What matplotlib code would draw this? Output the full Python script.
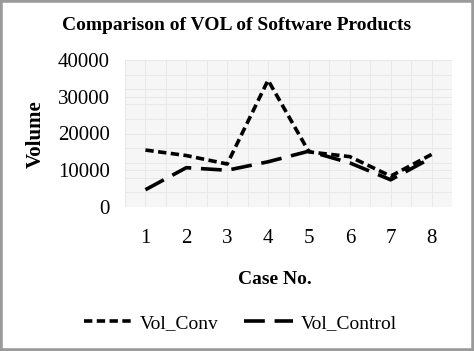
import numpy as np
import matplotlib.pyplot as plt
from matplotlib.patches import Rectangle

plt.rcParams['font.family'] = ['Liberation Serif', 'DejaVu Serif']
plt.rcParams['lines.scale_dashes'] = False

cases = ['1', '2', '3', '4', '5', '6', '7', '8']
vol_conv = [15500, 14000, 11700, 34500, 15000, 13700, 8400, 14300]
vol_control = [4700, 10700, 10000, 12300, 15200, 12000, 7400, 13400]

fig = plt.figure(figsize=(4.74, 3.51), dpi=100)
ax = fig.add_axes([125 / 474, 1 - 207 / 351, 327 / 474, 147 / 351])
ax.set_facecolor('#f6f6f6')

x = np.arange(1, len(cases) + 1)
ax.plot(x, vol_conv, color='black', lw=2.6, dashes=(6, 3.2), label='Vol_Conv')
ax.plot(x, vol_control, color='black', lw=2.6, dashes=(15, 7), label='Vol_Control')

ax.set_xlim(0.5, 8.5)
ax.set_ylim(0, 40000)
ax.set_yticks([0, 10000, 20000, 30000, 40000])
ax.set_xticks(x)
ax.set_xticklabels(cases)
ax.tick_params(length=0, labelsize=15)
ax.tick_params(axis='x', pad=16)
ax.tick_params(axis='y', pad=11)
for s in ax.spines.values():
    s.set_visible(False)

# faint grid texture of the plot area
ax.set_xticks(np.arange(0.5, 8.6, 0.5), minor=True)
ax.set_yticks(np.arange(0, 40001, 4000), minor=True)
ax.grid(which='both', color='#e6e6e6', lw=0.6)
ax.tick_params(which='minor', length=0)
ax.set_axisbelow(True)

fig.text(0.5, 1 - 26 / 351, 'Comparison of VOL of Software Products',
         ha='center', va='center', fontsize=14, fontweight='bold')
fig.text(36 / 474, 1 - 134 / 351, 'Volume', rotation=90, ha='center', va='center',
         fontsize=15, fontweight='bold')
fig.text(275 / 474, 1 - 280 / 351, 'Case No.', ha='center', va='center',
         fontsize=14, fontweight='bold')

handles, labels = ax.get_legend_handles_labels()
fig.legend(handles, labels, loc='center', bbox_to_anchor=(240 / 474, 1 - 323 / 351),
           ncol=2, frameon=False, fontsize=14, handlelength=2.5,
           handletextpad=0.4, columnspacing=1.3)

fig.patches.append(Rectangle((0, 0), 1, 1, transform=fig.transFigure, fill=False,
                             edgecolor='#9a9a9a', lw=4))

fig.savefig('out.png', dpi=100)
